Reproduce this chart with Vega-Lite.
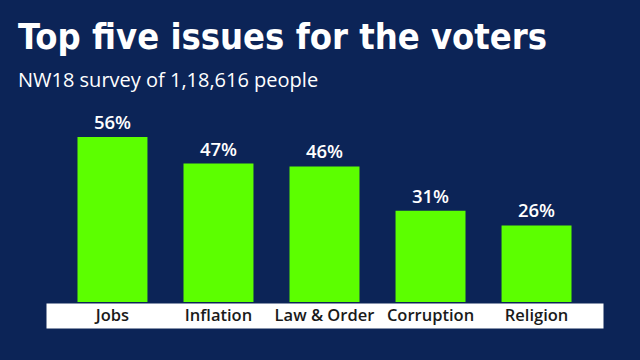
{
  "$schema": "https://vega.github.io/schema/vega-lite/v6.json",
  "autosize": "none",
  "width": 557,
  "height": 215.5,
  "padding": {"top": 100, "left": 46, "right": 37, "bottom": 44.5},
  "background": "#0c2457",
  "title": {
    "text": "Top five issues for the voters",
    "subtitle": "NW18 survey of 1,18,616 people",
    "anchor": "start",
    "frame": "group",
    "dx": -28,
    "offset": 8,
    "color": "white",
    "font": "DejaVu Sans Condensed",
    "fontSize": 36,
    "fontWeight": "bold",
    "subtitleColor": "white",
    "subtitleFont": "Open Sans",
    "subtitleFontSize": 20,
    "subtitlePadding": 14
  },
  "data": {
    "values": [
      {"issue": "Jobs", "pct": 56},
      {"issue": "Inflation", "pct": 47},
      {"issue": "Law & Order", "pct": 46},
      {"issue": "Corruption", "pct": 31},
      {"issue": "Religion", "pct": 26}
    ]
  },
  "transform": [{"calculate": "datum.pct + '%'", "as": "label"}],
  "encoding": {
    "x": {
      "field": "issue",
      "type": "nominal",
      "sort": null,
      "scale": {"paddingInner": 0.34, "paddingOuter": 0.297}
    },
    "y": {
      "field": "pct",
      "type": "quantitative",
      "scale": {"domain": [-4.58, 68.55], "nice": false, "zero": false},
      "axis": null
    }
  },
  "layer": [
    {
      "mark": {"type": "bar", "color": "#5cff00"},
      "encoding": {
        "x": {
          "field": "issue",
          "type": "nominal",
          "sort": null,
          "axis": {
            "orient": "bottom",
            "title": null,
            "labels": false,
            "ticks": false,
            "domainColor": "white",
            "domainWidth": 25,
            "domainCap": "butt",
            "zindex": 0
          }
        }
      }
    },
    {
      "mark": {
        "type": "text",
        "color": "white",
        "font": "Open Sans",
        "fontSize": 18.5,
        "fontWeight": 600,
        "baseline": "bottom",
        "dy": -4
      },
      "encoding": {
        "x": {
          "field": "issue",
          "type": "nominal",
          "sort": null,
          "axis": {
            "orient": "bottom",
            "title": null,
            "domain": false,
            "labelAngle": 0,
            "ticks": false,
            "tickSize": 0,
            "labelPadding": 0,
            "labelBaseline": "middle",
            "labelColor": "#1a1a1a",
            "labelFont": "Open Sans",
            "labelFontSize": 16.5,
            "labelFontWeight": 600,
            "zindex": 2
          }
        },
        "text": {"field": "label", "type": "nominal"}
      }
    }
  ],
  "resolve": {"axis": {"x": "independent"}},
  "config": {"view": {"stroke": null}}
}
